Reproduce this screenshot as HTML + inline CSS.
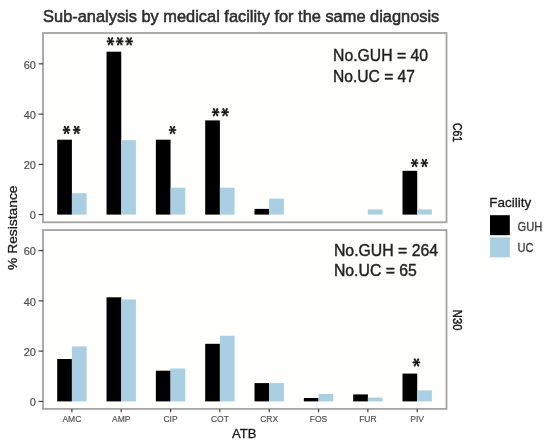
<!DOCTYPE html>
<html><head><meta charset="utf-8"><style>
html,body{margin:0;padding:0;background:#fff;width:550px;height:448px;overflow:hidden}
svg{display:block;font-family:"Liberation Sans",sans-serif;filter:blur(0.4px)}
</style></head><body>
<svg width="550" height="448" viewBox="0 0 550 448">
<rect x="43.00" y="33.00" width="403.50" height="189.30" fill="#fefefc"/>
<rect x="57.20" y="139.70" width="14.70" height="74.90" fill="#000"/>
<rect x="71.90" y="193.20" width="14.70" height="21.40" fill="#aacfe2"/>
<rect x="106.53" y="51.70" width="14.70" height="162.90" fill="#000"/>
<rect x="121.23" y="140.10" width="14.70" height="74.50" fill="#aacfe2"/>
<rect x="155.86" y="139.70" width="14.70" height="74.90" fill="#000"/>
<rect x="170.56" y="187.70" width="14.70" height="26.90" fill="#aacfe2"/>
<rect x="205.19" y="120.40" width="14.70" height="94.20" fill="#000"/>
<rect x="219.89" y="187.70" width="14.70" height="26.90" fill="#aacfe2"/>
<rect x="254.52" y="208.90" width="14.70" height="5.70" fill="#000"/>
<rect x="269.22" y="198.60" width="14.70" height="16.00" fill="#aacfe2"/>
<rect x="367.88" y="209.40" width="14.70" height="5.20" fill="#aacfe2"/>
<rect x="402.51" y="170.80" width="14.70" height="43.80" fill="#000"/>
<rect x="417.21" y="209.40" width="14.70" height="5.20" fill="#aacfe2"/>
<rect x="43.00" y="33.00" width="403.50" height="189.30" fill="none" stroke="#a4a4a4" stroke-width="1.8"/>
<line x1="38.60" y1="214.60" x2="43.00" y2="214.60" stroke="#333" stroke-width="1.1"/>
<text x="35.90" y="219.30" font-size="11" fill="#4d4d4d" text-anchor="end" stroke="#4d4d4d" stroke-width="0.2">0</text>
<line x1="38.60" y1="164.35" x2="43.00" y2="164.35" stroke="#333" stroke-width="1.1"/>
<text x="35.90" y="169.05" font-size="11" fill="#4d4d4d" text-anchor="end" stroke="#4d4d4d" stroke-width="0.2">20</text>
<line x1="38.60" y1="114.10" x2="43.00" y2="114.10" stroke="#333" stroke-width="1.1"/>
<text x="35.90" y="118.80" font-size="11" fill="#4d4d4d" text-anchor="end" stroke="#4d4d4d" stroke-width="0.2">40</text>
<line x1="38.60" y1="63.85" x2="43.00" y2="63.85" stroke="#333" stroke-width="1.1"/>
<text x="35.90" y="68.55" font-size="11" fill="#4d4d4d" text-anchor="end" stroke="#4d4d4d" stroke-width="0.2">60</text>
<rect x="43.00" y="230.10" width="403.50" height="178.80" fill="#fefefc"/>
<rect x="57.20" y="359.00" width="14.70" height="42.40" fill="#000"/>
<rect x="71.90" y="346.40" width="14.70" height="55.00" fill="#aacfe2"/>
<rect x="106.53" y="297.30" width="14.70" height="104.10" fill="#000"/>
<rect x="121.23" y="299.50" width="14.70" height="101.90" fill="#aacfe2"/>
<rect x="155.86" y="370.70" width="14.70" height="30.70" fill="#000"/>
<rect x="170.56" y="368.50" width="14.70" height="32.90" fill="#aacfe2"/>
<rect x="205.19" y="343.80" width="14.70" height="57.60" fill="#000"/>
<rect x="219.89" y="335.80" width="14.70" height="65.60" fill="#aacfe2"/>
<rect x="254.52" y="383.10" width="14.70" height="18.30" fill="#000"/>
<rect x="269.22" y="383.10" width="14.70" height="18.30" fill="#aacfe2"/>
<rect x="303.85" y="398.00" width="14.70" height="3.40" fill="#000"/>
<rect x="318.55" y="394.00" width="14.70" height="7.40" fill="#aacfe2"/>
<rect x="353.18" y="394.40" width="14.70" height="7.00" fill="#000"/>
<rect x="367.88" y="397.60" width="14.70" height="3.80" fill="#aacfe2"/>
<rect x="402.51" y="373.60" width="14.70" height="27.80" fill="#000"/>
<rect x="417.21" y="390.40" width="14.70" height="11.00" fill="#aacfe2"/>
<rect x="43.00" y="230.10" width="403.50" height="178.80" fill="none" stroke="#a4a4a4" stroke-width="1.8"/>
<line x1="38.60" y1="401.40" x2="43.00" y2="401.40" stroke="#333" stroke-width="1.1"/>
<text x="35.90" y="406.10" font-size="11" fill="#4d4d4d" text-anchor="end" stroke="#4d4d4d" stroke-width="0.2">0</text>
<line x1="38.60" y1="351.14" x2="43.00" y2="351.14" stroke="#333" stroke-width="1.1"/>
<text x="35.90" y="355.84" font-size="11" fill="#4d4d4d" text-anchor="end" stroke="#4d4d4d" stroke-width="0.2">20</text>
<line x1="38.60" y1="300.88" x2="43.00" y2="300.88" stroke="#333" stroke-width="1.1"/>
<text x="35.90" y="305.58" font-size="11" fill="#4d4d4d" text-anchor="end" stroke="#4d4d4d" stroke-width="0.2">40</text>
<line x1="38.60" y1="250.62" x2="43.00" y2="250.62" stroke="#333" stroke-width="1.1"/>
<text x="35.90" y="255.32" font-size="11" fill="#4d4d4d" text-anchor="end" stroke="#4d4d4d" stroke-width="0.2">60</text>
<polygon points="66.50,129.30 69.70,128.80 70.60,129.90 69.70,131.00 66.50,130.50" fill="#262626"/>
<polygon points="65.98,129.60 67.46,126.04 68.95,125.66 69.36,127.14 67.02,130.20" fill="#262626"/>
<polygon points="65.98,130.20 63.64,127.14 64.05,125.66 65.54,126.04 67.02,129.60" fill="#262626"/>
<polygon points="66.50,130.50 63.30,131.00 62.40,129.90 63.30,128.80 66.50,129.30" fill="#262626"/>
<polygon points="67.02,130.20 65.54,133.76 64.05,134.14 63.64,132.66 65.98,129.60" fill="#262626"/>
<polygon points="67.02,129.60 69.36,132.66 68.95,134.14 67.46,133.76 65.98,130.20" fill="#262626"/>
<circle cx="66.50" cy="129.90" r="1.25" fill="#111"/>
<polygon points="76.70,129.30 79.90,128.80 80.80,129.90 79.90,131.00 76.70,130.50" fill="#262626"/>
<polygon points="76.18,129.60 77.66,126.04 79.15,125.66 79.56,127.14 77.22,130.20" fill="#262626"/>
<polygon points="76.18,130.20 73.84,127.14 74.25,125.66 75.74,126.04 77.22,129.60" fill="#262626"/>
<polygon points="76.70,130.50 73.50,131.00 72.60,129.90 73.50,128.80 76.70,129.30" fill="#262626"/>
<polygon points="77.22,130.20 75.74,133.76 74.25,134.14 73.84,132.66 76.18,129.60" fill="#262626"/>
<polygon points="77.22,129.60 79.56,132.66 79.15,134.14 77.66,133.76 76.18,130.20" fill="#262626"/>
<circle cx="76.70" cy="129.90" r="1.25" fill="#111"/>
<polygon points="110.45,40.70 113.65,40.20 114.55,41.30 113.65,42.40 110.45,41.90" fill="#262626"/>
<polygon points="109.93,41.00 111.41,37.44 112.90,37.06 113.31,38.54 110.97,41.60" fill="#262626"/>
<polygon points="109.93,41.60 107.59,38.54 108.00,37.06 109.49,37.44 110.97,41.00" fill="#262626"/>
<polygon points="110.45,41.90 107.25,42.40 106.35,41.30 107.25,40.20 110.45,40.70" fill="#262626"/>
<polygon points="110.97,41.60 109.49,45.16 108.00,45.54 107.59,44.06 109.93,41.00" fill="#262626"/>
<polygon points="110.97,41.00 113.31,44.06 112.90,45.54 111.41,45.16 109.93,41.60" fill="#262626"/>
<circle cx="110.45" cy="41.30" r="1.25" fill="#111"/>
<polygon points="119.80,40.70 123.00,40.20 123.90,41.30 123.00,42.40 119.80,41.90" fill="#262626"/>
<polygon points="119.28,41.00 120.76,37.44 122.25,37.06 122.66,38.54 120.32,41.60" fill="#262626"/>
<polygon points="119.28,41.60 116.94,38.54 117.35,37.06 118.84,37.44 120.32,41.00" fill="#262626"/>
<polygon points="119.80,41.90 116.60,42.40 115.70,41.30 116.60,40.20 119.80,40.70" fill="#262626"/>
<polygon points="120.32,41.60 118.84,45.16 117.35,45.54 116.94,44.06 119.28,41.00" fill="#262626"/>
<polygon points="120.32,41.00 122.66,44.06 122.25,45.54 120.76,45.16 119.28,41.60" fill="#262626"/>
<circle cx="119.80" cy="41.30" r="1.25" fill="#111"/>
<polygon points="129.15,40.70 132.35,40.20 133.25,41.30 132.35,42.40 129.15,41.90" fill="#262626"/>
<polygon points="128.63,41.00 130.11,37.44 131.60,37.06 132.01,38.54 129.67,41.60" fill="#262626"/>
<polygon points="128.63,41.60 126.29,38.54 126.70,37.06 128.19,37.44 129.67,41.00" fill="#262626"/>
<polygon points="129.15,41.90 125.95,42.40 125.05,41.30 125.95,40.20 129.15,40.70" fill="#262626"/>
<polygon points="129.67,41.60 128.19,45.16 126.70,45.54 126.29,44.06 128.63,41.00" fill="#262626"/>
<polygon points="129.67,41.00 132.01,44.06 131.60,45.54 130.11,45.16 128.63,41.60" fill="#262626"/>
<circle cx="129.15" cy="41.30" r="1.25" fill="#111"/>
<polygon points="172.50,129.40 175.70,128.90 176.60,130.00 175.70,131.10 172.50,130.60" fill="#262626"/>
<polygon points="171.98,129.70 173.46,126.14 174.95,125.76 175.36,127.24 173.02,130.30" fill="#262626"/>
<polygon points="171.98,130.30 169.64,127.24 170.05,125.76 171.54,126.14 173.02,129.70" fill="#262626"/>
<polygon points="172.50,130.60 169.30,131.10 168.40,130.00 169.30,128.90 172.50,129.40" fill="#262626"/>
<polygon points="173.02,130.30 171.54,133.86 170.05,134.24 169.64,132.76 171.98,129.70" fill="#262626"/>
<polygon points="173.02,129.70 175.36,132.76 174.95,134.24 173.46,133.86 171.98,130.30" fill="#262626"/>
<circle cx="172.50" cy="130.00" r="1.25" fill="#111"/>
<polygon points="215.60,111.60 218.80,111.10 219.70,112.20 218.80,113.30 215.60,112.80" fill="#262626"/>
<polygon points="215.08,111.90 216.56,108.34 218.05,107.96 218.46,109.44 216.12,112.50" fill="#262626"/>
<polygon points="215.08,112.50 212.74,109.44 213.15,107.96 214.64,108.34 216.12,111.90" fill="#262626"/>
<polygon points="215.60,112.80 212.40,113.30 211.50,112.20 212.40,111.10 215.60,111.60" fill="#262626"/>
<polygon points="216.12,112.50 214.64,116.06 213.15,116.44 212.74,114.96 215.08,111.90" fill="#262626"/>
<polygon points="216.12,111.90 218.46,114.96 218.05,116.44 216.56,116.06 215.08,112.50" fill="#262626"/>
<circle cx="215.60" cy="112.20" r="1.25" fill="#111"/>
<polygon points="225.10,111.60 228.30,111.10 229.20,112.20 228.30,113.30 225.10,112.80" fill="#262626"/>
<polygon points="224.58,111.90 226.06,108.34 227.55,107.96 227.96,109.44 225.62,112.50" fill="#262626"/>
<polygon points="224.58,112.50 222.24,109.44 222.65,107.96 224.14,108.34 225.62,111.90" fill="#262626"/>
<polygon points="225.10,112.80 221.90,113.30 221.00,112.20 221.90,111.10 225.10,111.60" fill="#262626"/>
<polygon points="225.62,112.50 224.14,116.06 222.65,116.44 222.24,114.96 224.58,111.90" fill="#262626"/>
<polygon points="225.62,111.90 227.96,114.96 227.55,116.44 226.06,116.06 224.58,112.50" fill="#262626"/>
<circle cx="225.10" cy="112.20" r="1.25" fill="#111"/>
<polygon points="414.60,162.40 417.80,161.90 418.70,163.00 417.80,164.10 414.60,163.60" fill="#262626"/>
<polygon points="414.08,162.70 415.56,159.14 417.05,158.76 417.46,160.24 415.12,163.30" fill="#262626"/>
<polygon points="414.08,163.30 411.74,160.24 412.15,158.76 413.64,159.14 415.12,162.70" fill="#262626"/>
<polygon points="414.60,163.60 411.40,164.10 410.50,163.00 411.40,161.90 414.60,162.40" fill="#262626"/>
<polygon points="415.12,163.30 413.64,166.86 412.15,167.24 411.74,165.76 414.08,162.70" fill="#262626"/>
<polygon points="415.12,162.70 417.46,165.76 417.05,167.24 415.56,166.86 414.08,163.30" fill="#262626"/>
<circle cx="414.60" cy="163.00" r="1.25" fill="#111"/>
<polygon points="424.40,162.40 427.60,161.90 428.50,163.00 427.60,164.10 424.40,163.60" fill="#262626"/>
<polygon points="423.88,162.70 425.36,159.14 426.85,158.76 427.26,160.24 424.92,163.30" fill="#262626"/>
<polygon points="423.88,163.30 421.54,160.24 421.95,158.76 423.44,159.14 424.92,162.70" fill="#262626"/>
<polygon points="424.40,163.60 421.20,164.10 420.30,163.00 421.20,161.90 424.40,162.40" fill="#262626"/>
<polygon points="424.92,163.30 423.44,166.86 421.95,167.24 421.54,165.76 423.88,162.70" fill="#262626"/>
<polygon points="424.92,162.70 427.26,165.76 426.85,167.24 425.36,166.86 423.88,163.30" fill="#262626"/>
<circle cx="424.40" cy="163.00" r="1.25" fill="#111"/>
<polygon points="416.40,361.80 419.60,361.30 420.50,362.40 419.60,363.50 416.40,363.00" fill="#262626"/>
<polygon points="415.88,362.10 417.36,358.54 418.85,358.16 419.26,359.64 416.92,362.70" fill="#262626"/>
<polygon points="415.88,362.70 413.54,359.64 413.95,358.16 415.44,358.54 416.92,362.10" fill="#262626"/>
<polygon points="416.40,363.00 413.20,363.50 412.30,362.40 413.20,361.30 416.40,361.80" fill="#262626"/>
<polygon points="416.92,362.70 415.44,366.26 413.95,366.64 413.54,365.16 415.88,362.10" fill="#262626"/>
<polygon points="416.92,362.10 419.26,365.16 418.85,366.64 417.36,366.26 415.88,362.70" fill="#262626"/>
<circle cx="416.40" cy="362.40" r="1.25" fill="#111"/>
<line x1="71.90" y1="408.90" x2="71.90" y2="412.20" stroke="#333" stroke-width="1.1"/>
<text x="71.90" y="422.30" font-size="8.5" fill="#4d4d4d" text-anchor="middle" stroke="#4d4d4d" stroke-width="0.15">AMC</text>
<line x1="121.23" y1="408.90" x2="121.23" y2="412.20" stroke="#333" stroke-width="1.1"/>
<text x="121.23" y="422.30" font-size="8.5" fill="#4d4d4d" text-anchor="middle" stroke="#4d4d4d" stroke-width="0.15">AMP</text>
<line x1="170.56" y1="408.90" x2="170.56" y2="412.20" stroke="#333" stroke-width="1.1"/>
<text x="170.56" y="422.30" font-size="8.5" fill="#4d4d4d" text-anchor="middle" stroke="#4d4d4d" stroke-width="0.15">CIP</text>
<line x1="219.89" y1="408.90" x2="219.89" y2="412.20" stroke="#333" stroke-width="1.1"/>
<text x="219.89" y="422.30" font-size="8.5" fill="#4d4d4d" text-anchor="middle" stroke="#4d4d4d" stroke-width="0.15">COT</text>
<line x1="269.22" y1="408.90" x2="269.22" y2="412.20" stroke="#333" stroke-width="1.1"/>
<text x="269.22" y="422.30" font-size="8.5" fill="#4d4d4d" text-anchor="middle" stroke="#4d4d4d" stroke-width="0.15">CRX</text>
<line x1="318.55" y1="408.90" x2="318.55" y2="412.20" stroke="#333" stroke-width="1.1"/>
<text x="318.55" y="422.30" font-size="8.5" fill="#4d4d4d" text-anchor="middle" stroke="#4d4d4d" stroke-width="0.15">FOS</text>
<line x1="367.88" y1="408.90" x2="367.88" y2="412.20" stroke="#333" stroke-width="1.1"/>
<text x="367.88" y="422.30" font-size="8.5" fill="#4d4d4d" text-anchor="middle" stroke="#4d4d4d" stroke-width="0.15">FUR</text>
<line x1="417.21" y1="408.90" x2="417.21" y2="412.20" stroke="#333" stroke-width="1.1"/>
<text x="417.21" y="422.30" font-size="8.5" fill="#4d4d4d" text-anchor="middle" stroke="#4d4d4d" stroke-width="0.15">PIV</text>
<text x="0" y="0" font-size="12" fill="#1a1a1a" stroke="#1a1a1a" stroke-width="0.45" textLength="19.2" lengthAdjust="spacingAndGlyphs" text-anchor="middle" transform="translate(453.1 132.5) rotate(90)">C61</text>
<text x="0" y="0" font-size="12" fill="#1a1a1a" stroke="#1a1a1a" stroke-width="0.45" textLength="20.5" lengthAdjust="spacingAndGlyphs" text-anchor="middle" transform="translate(453.0 320.1) rotate(90)">N30</text>
<text x="333.00" y="60.70" font-size="16.3" fill="#222" text-anchor="start" textLength="95.0" stroke="#222" stroke-width="0.4" lengthAdjust="spacingAndGlyphs">No.GUH = 40</text>
<text x="333.00" y="81.90" font-size="16.3" fill="#222" text-anchor="start" textLength="82.0" stroke="#222" stroke-width="0.4" lengthAdjust="spacingAndGlyphs">No.UC = 47</text>
<text x="333.90" y="255.50" font-size="16.3" fill="#222" text-anchor="start" textLength="104.3" stroke="#222" stroke-width="0.4" lengthAdjust="spacingAndGlyphs">No.GUH = 264</text>
<text x="333.90" y="276.10" font-size="16.3" fill="#222" text-anchor="start" textLength="83.0" stroke="#222" stroke-width="0.4" lengthAdjust="spacingAndGlyphs">No.UC = 65</text>
<text x="43.10" y="22.40" font-size="17" fill="#2e2e2e" text-anchor="start" textLength="396.2" lengthAdjust="spacingAndGlyphs" stroke="#2e2e2e" stroke-width="0.55">Sub-analysis by medical facility for the same diagnosis</text>
<text x="244.20" y="438.20" font-size="13" fill="#1a1a1a" text-anchor="middle" stroke="#1a1a1a" stroke-width="0.3">ATB</text>
<text x="0" y="0" font-size="13.5" fill="#1a1a1a" stroke="#1a1a1a" stroke-width="0.3" textLength="84.5" lengthAdjust="spacingAndGlyphs" text-anchor="middle" transform="translate(17.3 227.7) rotate(-90)">% Resistance</text>
<text x="489.20" y="206.50" font-size="13.3" fill="#1a1a1a" text-anchor="start" stroke="#1a1a1a" stroke-width="0.3" textLength="42.0" lengthAdjust="spacingAndGlyphs">Facility</text>
<rect x="490.00" y="215.20" width="19.80" height="20.00" fill="#000"/>
<rect x="490.00" y="237.30" width="19.80" height="20.00" fill="#aacfe2"/>
<text x="517.60" y="230.60" font-size="12" fill="#3a3a3a" text-anchor="start" stroke="#3a3a3a" stroke-width="0.3" textLength="24.8" lengthAdjust="spacingAndGlyphs">GUH</text>
<text x="517.60" y="251.90" font-size="12" fill="#3a3a3a" text-anchor="start" stroke="#3a3a3a" stroke-width="0.3" textLength="16.0" lengthAdjust="spacingAndGlyphs">UC</text>
</svg>
</body></html>
